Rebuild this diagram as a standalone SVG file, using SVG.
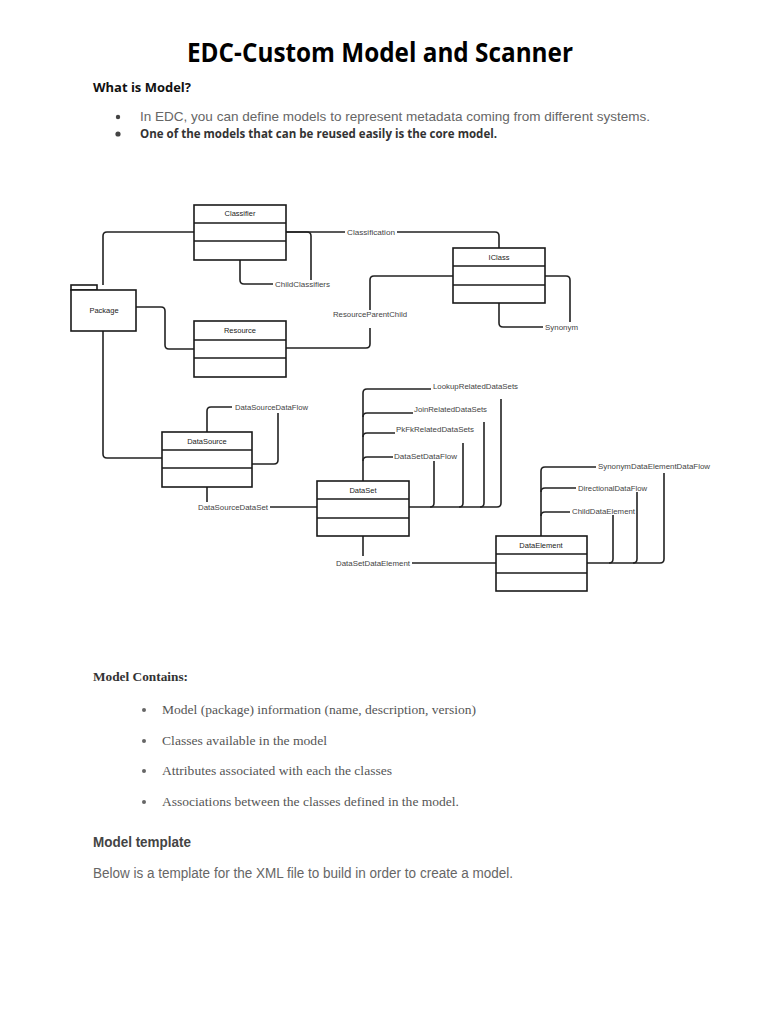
<svg xmlns="http://www.w3.org/2000/svg" width="768" height="1024" viewBox="0 0 768 1024">
<style>
.bg{fill:#fff}
.box{fill:#fff;stroke:#1a1a1a;stroke-width:1.6}
.div{stroke:#1a1a1a;stroke-width:1.4}
.cn{fill:none;stroke:#222;stroke-width:1.6}
.cname{font-family:"Liberation Sans",Arial,sans-serif;font-size:7.5px;fill:#222;text-anchor:middle}
.lbl{font-family:"Liberation Sans",Arial,sans-serif;font-size:7px;fill:#444}
.title{font-family:"Open Sans","Noto Sans",sans-serif;font-weight:bold;font-size:26px;fill:#000}
.h1{font-family:"Open Sans","Noto Sans",sans-serif;font-weight:bold;font-size:13px;fill:#111}
.p1{font-family:"Liberation Sans",Arial,sans-serif;font-size:13px;fill:#666}
.p2{font-family:"Open Sans","Noto Sans",sans-serif;font-weight:bold;font-size:12px;fill:#333}
.ser{font-family:"Liberation Serif","Times New Roman",serif;font-size:13px;fill:#555}
.serb{font-family:"Liberation Serif","Times New Roman",serif;font-size:13px;font-weight:bold;fill:#333}
.h2{font-family:"Liberation Sans",Arial,sans-serif;font-weight:bold;font-size:14px;fill:#444}
.bul{fill:#444}
</style>
<rect class="bg" x="0" y="0" width="768" height="1024"/>

<text class="title" x="187" y="62" textLength="386" lengthAdjust="spacingAndGlyphs">EDC-Custom Model and Scanner</text>
<text class="h1" x="93" y="92" textLength="98" lengthAdjust="spacingAndGlyphs">What is Model?</text>
<circle class="bul" cx="118" cy="117" r="2.2" fill="#777"/>
<text class="p1" x="140" y="121" textLength="510" lengthAdjust="spacingAndGlyphs">In EDC, you can define models to represent metadata coming from different systems.</text>
<circle class="bul" cx="118" cy="134" r="2.6" fill="#222"/>
<text class="p2" x="140" y="138" textLength="357" lengthAdjust="spacingAndGlyphs">One of the models that can be reused easily is the core model.</text>

<g id="connectors">
<path class="cn" d="M103,285 V236 Q103,232 107,232 H194"/>
<path class="cn" d="M286,232 H345"/>
<path class="cn" d="M286,232 H307 Q311,232 311,236 V280"/>
<path class="cn" d="M397,232 H495 Q499,232 499,236 V248"/>
<path class="cn" d="M240,260 V280 Q240,284 244,284 H273"/>
<path class="cn" d="M136,307 H161 Q165,307 165,311 V345 Q165,349 169,349 H194"/>
<path class="cn" d="M286,348 H366 Q370,348 370,344 V328"/>
<path class="cn" d="M370,310 V280 Q370,276 374,276 H453"/>
<path class="cn" d="M499,303 V323 Q499,327 503,327 H543"/>
<path class="cn" d="M545,276 H566 Q570,276 570,280 V322"/>
<path class="cn" d="M103,331 V454 Q103,458 107,458 H162"/>
<path class="cn" d="M207,432 V411 Q207,407 211,407 H232"/>
<path class="cn" d="M278,413 V460 Q278,464 274,464 H252"/>
<path class="cn" d="M207,487 V502"/>
<path class="cn" d="M270,507 H317"/>
<path class="cn" d="M363,481 V393 Q363,389 367,389 H431"/>
<path class="cn" d="M363,417 Q363,413 367,413 H413"/>
<path class="cn" d="M363,437 Q363,433 367,433 H395"/>
<path class="cn" d="M363,461 Q363,457 367,457 H393"/>
<path class="cn" d="M409,507 H497 Q501,507 501,503 V399"/>
<path class="cn" d="M430,507 Q434,507 434,503 V461"/>
<path class="cn" d="M459,507 Q463,507 463,503 V443"/>
<path class="cn" d="M480,507 Q484,507 484,503 V422"/>
<path class="cn" d="M363,536 V556"/>
<path class="cn" d="M412,563 H496"/>
<path class="cn" d="M541,536 V471 Q541,467 545,467 H596"/>
<path class="cn" d="M541,492 Q541,488 545,488 H576"/>
<path class="cn" d="M541,516 Q541,512 545,512 H570"/>
<path class="cn" d="M587,563 H660 Q664,563 664,559 V473"/>
<path class="cn" d="M609,563 Q613,563 613,559 V515"/>
<path class="cn" d="M633,563 Q637,563 637,559 V492"/>

<text class="lbl" x="347" y="234.5" textLength="48" lengthAdjust="spacingAndGlyphs">Classification</text>
<text class="lbl" x="275" y="286.5" textLength="55" lengthAdjust="spacingAndGlyphs">ChildClassifiers</text>
<text class="lbl" x="333" y="316.5" textLength="74" lengthAdjust="spacingAndGlyphs">ResourceParentChild</text>
<text class="lbl" x="545" y="329.5" textLength="33" lengthAdjust="spacingAndGlyphs">Synonym</text>
<text class="lbl" x="235" y="409.5" textLength="73" lengthAdjust="spacingAndGlyphs">DataSourceDataFlow</text>
<text class="lbl" x="198" y="510" textLength="70" lengthAdjust="spacingAndGlyphs">DataSourceDataSet</text>
<text class="lbl" x="433" y="388.5" textLength="85" lengthAdjust="spacingAndGlyphs">LookupRelatedDataSets</text>
<text class="lbl" x="414" y="411.5" textLength="73" lengthAdjust="spacingAndGlyphs">JoinRelatedDataSets</text>
<text class="lbl" x="396" y="432" textLength="78" lengthAdjust="spacingAndGlyphs">PkFkRelatedDataSets</text>
<text class="lbl" x="394" y="458.5" textLength="63" lengthAdjust="spacingAndGlyphs">DataSetDataFlow</text>
<text class="lbl" x="336" y="565.5" textLength="74" lengthAdjust="spacingAndGlyphs">DataSetDataElement</text>
<text class="lbl" x="598" y="469" textLength="112" lengthAdjust="spacingAndGlyphs">SynonymDataElementDataFlow</text>
<text class="lbl" x="578" y="490.5" textLength="69" lengthAdjust="spacingAndGlyphs">DirectionalDataFlow</text>
<text class="lbl" x="572" y="514" textLength="63" lengthAdjust="spacingAndGlyphs">ChildDataElement</text>
</g>

<g id="package">
<rect class="box" x="71" y="285" width="26" height="5"/>
<rect class="box" x="71" y="290" width="65" height="41"/>
<text class="cname" x="104" y="313">Package</text>
</g>
<g id="classifier">
<rect class="box" x="194" y="205" width="92" height="55"/>
<line class="div" x1="194" y1="223" x2="286" y2="223"/>
<line class="div" x1="194" y1="241" x2="286" y2="241"/>
<text class="cname" x="240" y="216">Classifier</text>
</g>
<g id="resource">
<rect class="box" x="194" y="321" width="92" height="56"/>
<line class="div" x1="194" y1="340" x2="286" y2="340"/>
<line class="div" x1="194" y1="358" x2="286" y2="358"/>
<text class="cname" x="240" y="333">Resource</text>
</g>
<g id="iclass">
<rect class="box" x="453" y="248" width="92" height="55"/>
<line class="div" x1="453" y1="266" x2="545" y2="266"/>
<line class="div" x1="453" y1="285" x2="545" y2="285"/>
<text class="cname" x="499" y="260">IClass</text>
</g>
<g id="datasource">
<rect class="box" x="162" y="432" width="90" height="55"/>
<line class="div" x1="162" y1="450" x2="252" y2="450"/>
<line class="div" x1="162" y1="468" x2="252" y2="468"/>
<text class="cname" x="207" y="444">DataSource</text>
</g>
<g id="dataset">
<rect class="box" x="317" y="481" width="92" height="55"/>
<line class="div" x1="317" y1="499" x2="409" y2="499"/>
<line class="div" x1="317" y1="518" x2="409" y2="518"/>
<text class="cname" x="363" y="493">DataSet</text>
</g>
<g id="dataelement">
<rect class="box" x="496" y="536" width="91" height="55"/>
<line class="div" x1="496" y1="554" x2="587" y2="554"/>
<line class="div" x1="496" y1="573" x2="587" y2="573"/>
<text class="cname" x="541" y="548">DataElement</text>
</g>

<text class="serb" x="93" y="681" textLength="95" lengthAdjust="spacingAndGlyphs">Model Contains:</text>
<circle cx="144" cy="710" r="2" fill="#666"/>
<text class="ser" x="162" y="714" textLength="314" lengthAdjust="spacingAndGlyphs">Model (package) information (name, description, version)</text>
<circle cx="144" cy="741" r="2" fill="#666"/>
<text class="ser" x="162" y="745" textLength="165" lengthAdjust="spacingAndGlyphs">Classes available in the model</text>
<circle cx="144" cy="771" r="2" fill="#666"/>
<text class="ser" x="162" y="775" textLength="230" lengthAdjust="spacingAndGlyphs">Attributes associated with each the classes</text>
<circle cx="144" cy="802" r="2" fill="#666"/>
<text class="ser" x="162" y="806" textLength="297" lengthAdjust="spacingAndGlyphs">Associations between the classes defined in the model.</text>
<text class="h2" x="93" y="847" textLength="98" lengthAdjust="spacingAndGlyphs">Model template</text>
<text class="p1" x="93" y="878" textLength="420" lengthAdjust="spacingAndGlyphs" style="font-size:14px">Below is a template for the XML file to build in order to create a model.</text>
</svg>
